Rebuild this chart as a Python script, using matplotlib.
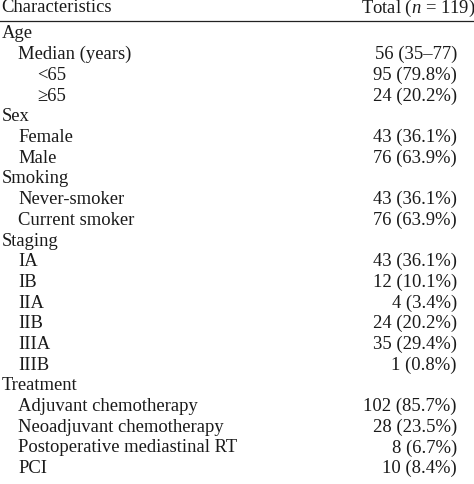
import matplotlib
matplotlib.use('Agg')
from matplotlib import pyplot as plt

plt.rcParams['mathtext.fontset'] = 'custom'
plt.rcParams['mathtext.it'] = 'Liberation Serif:italic'
plt.rcParams['mathtext.rm'] = 'Liberation Serif'

# 表格数据
labels = ['Age', 'Median (years)', '<65', '\u226565',
          'Sex', 'Female', 'Male',
          'Smoking', 'Never-smoker', 'Current smoker',
          'Staging', 'IA', 'IB', 'IIA', 'IIB', 'IIIA', 'IIIB',
          'Treatment', 'Adjuvant chemotherapy', 'Neoadjuvant chemotherapy',
          'Postoperative mediastinal RT', 'PCI']
levels = [0, 1, 2, 2, 0, 1, 1, 0, 1, 1, 0, 1, 1, 1, 1, 1, 1, 0, 1, 1, 1, 1]
values = ['', '56 (35\u201377)', '95 (79.8%)', '24 (20.2%)',
          '', '43 (36.1%)', '76 (63.9%)',
          '', '43 (36.1%)', '76 (63.9%)',
          '', '43 (36.1%)', '12 (10.1%)', '4 (3.4%)', '24 (20.2%)', '35 (29.4%)', '1 (0.8%)',
          '', '102 (85.7%)', '28 (23.5%)', '8 (6.7%)', '10 (8.4%)']

W, H = 474, 484
fig = plt.figure(figsize=(W / 100, H / 100), dpi=100)
ax = fig.add_axes([0, 0, 1, 1])
ax.set_xlim(0, W)
ax.set_ylim(H, 0)
ax.axis('off')

font = dict(family='Liberation Serif', fontsize=13.4, color='#1a1a1a', va='center')
indent = [2, 18, 37]

ax.text(1, 8, 'Characteristics', ha='left', **font)
ax.text(476, 8, 'Total ($\\it{n}$ = 119)', ha='right', **font)
ax.plot([0, W], [20.5, 20.5], color='#222222', lw=0.9)

y0, dy = 34, 20.7
for i, (lab, lev, val) in enumerate(zip(labels, levels, values)):
    y = y0 + i * dy
    ax.text(indent[lev], y, lab, ha='left', **font)
    if val:
        ax.text(457, y, val, ha='right', **font)

fig.savefig('out.png', dpi=100)
